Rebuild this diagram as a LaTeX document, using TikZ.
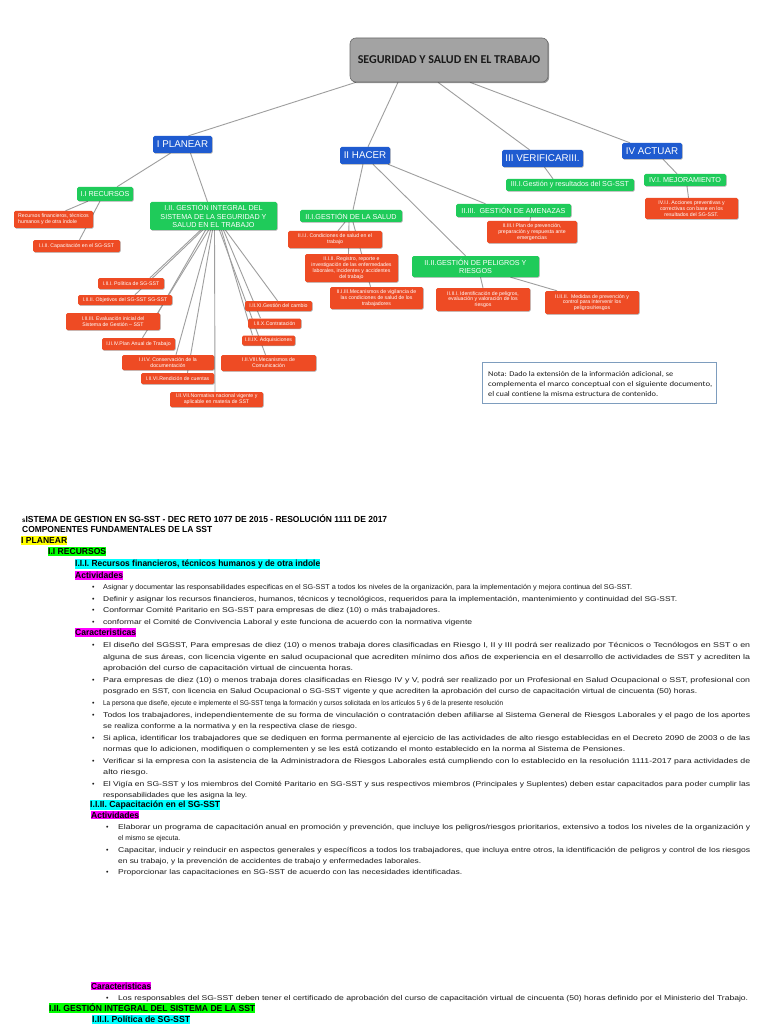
\documentclass[tikz,border=0pt]{standalone}
\usepackage{fontspec}
\usepackage{graphicx}
\setmainfont{Liberation Sans}
\newfontfamily\calib{Carlito}
\usetikzlibrary{calc,shadows,backgrounds}
\definecolor{bl}{HTML}{1F5BD0}
\definecolor{gr}{HTML}{1FCB5A}
\definecolor{rd}{HTML}{EE4B24}
\definecolor{ln}{HTML}{9E9E9E}
\definecolor{rootc}{HTML}{A3A3A3}
\definecolor{rootb}{HTML}{6A6A6A}
\definecolor{notec}{HTML}{7E9DBE}
\definecolor{txt}{HTML}{1A1A1A}
\definecolor{hy}{HTML}{FFFF00}
\definecolor{hg}{HTML}{00FF00}
\definecolor{hc}{HTML}{00FFFF}
\definecolor{hm}{HTML}{FF00FF}
\newcommand{\fl}[2]{\resizebox{#1pt}{\height}{#2}}
\newcommand{\bline}[5]{\node[body] (#1) at (#2,#3) {\fl{#4}{#5}};}
\newcommand{\bdot}[3]{\node[body] (#1) at (#2,#3) {\textbullet};}
\tikzset{
  sz/.style n args={2}{minimum width=#1pt, minimum height=#2pt},
  basebox/.style={rounded corners=1.5pt, text=white, align=center, inner sep=0pt,
    drop shadow={shadow xshift=0.7pt, shadow yshift=-0.7pt, opacity=0.35, fill=black}},
  rootbox/.style={rounded corners=6pt, fill=rootc, draw=rootb, line width=0.6pt, text=txt,
    font=\calib\bfseries\fontsize{12}{13}\selectfont, inner sep=0pt,
    drop shadow={shadow xshift=1.2pt, shadow yshift=-1.2pt, opacity=0.4, fill=black}},
  bluebox/.style={basebox, fill=bl, font=\fontsize{9.8}{11}\selectfont},
  greenbox/.style={basebox, fill=gr, font=\fontsize{7.2}{8.4}\selectfont},
  redbox/.style={basebox, fill=rd, font=\fontsize{5.2}{5.8}\selectfont},
  conn/.style={draw=ln, line width=0.9pt},
  body/.style={anchor=base west, inner sep=0pt, text=txt, font=\fontsize{7}{8}\selectfont},
  head/.style={anchor=base west, inner sep=0pt, text=black, font=\bfseries\fontsize{8.8}{9}\selectfont},
  hl/.style={anchor=base west, inner xsep=0pt, inner ysep=1pt, text=black, font=\bfseries\fontsize{8.8}{9}\selectfont},
  notebox/.style={draw=notec, line width=0.8pt, fill=white, sz={234}{41}},
  notetext/.style={anchor=base west, inner sep=0pt, text=txt, font=\calib\fontsize{7.3}{8}\selectfont}
}
\begin{document}
\begin{tikzpicture}[x=1pt,y=-1pt]
\useasboundingbox (0,0) rectangle (768,1024);

% ---------- concept map ----------
\node[rootbox, sz={198}{44}] (root) at (449,60) {SEGURIDAD Y SALUD EN EL TRABAJO};

\node[bluebox, sz={59}{17}] (planear) at (182.5,144.5) {I PLANEAR};
\node[bluebox, sz={50}{17}] (hacer) at (365,155.5) {II HACER};
\node[bluebox, sz={81}{17}] (verif) at (542.5,158.5) {III VERIFICARIII.};
\node[bluebox, sz={60}{16}] (actuar) at (652,151) {IV ACTUAR};

\node[greenbox, sz={56}{14}] (recursos) at (105,194) {I.I RECURSOS};
\node[greenbox, sz={127}{28}] (gestint) at (213.5,216) {I.II. GESTIÓN INTEGRAL DEL\\SISTEMA DE LA SEGURIDAD Y\\SALUD EN EL TRABAJO};
\node[greenbox, sz={102}{12}] (salud) at (351,216) {II.I.GESTIÓN DE LA SALUD};
\node[greenbox, sz={127}{21}] (peligros) at (475.5,266.5) {II.II.GESTIÓN DE PELIGROS Y\\RIESGOS};
\node[greenbox, sz={115}{13}] (amenazas) at (513.5,210.5) {II.III.\ \ GESTIÓN DE AMENAZAS};
\node[greenbox, sz={128}{12}] (gestres) at (570,185) {III.I.Gestión y resultados del SG-SST};
\node[greenbox, sz={82}{12}] (mejora) at (685,180) {IV.I. MEJORAMIENTO};

\node[redbox, sz={79}{17}, align=left] (recfin) at (53.5,219.5) {Recursos financieros, técnicos\\humanos y de otra índole};
\node[redbox, sz={87}{12}] (capac) at (76.5,246) {I.I.II. Capacitación en el SG-SST};
\node[redbox, sz={66}{11}] (politica) at (131,283.5) {I.II.I. Política de SG-SST};
\node[redbox, sz={94}{10}] (objetivos) at (125,300) {I.II.II. Objetivos del SG-SST SG-SST};
\node[redbox, sz={94}{17}] (evaluacion) at (113,321.5) {I.II.III. Evaluación inicial del\\Sistema de Gestión -- SST};
\node[redbox, sz={73}{12}] (plan) at (138.5,344) {I.II.IV.Plan Anual de Trabajo};
\node[redbox, sz={92}{15}] (conserv) at (168,362.5) {I.II.V. Conservación de la\\documentación};
\node[redbox, sz={73}{11}] (rendicion) at (177.5,378.5) {I.II.VI.Rendición de cuentas};
\node[redbox, sz={93}{15}] (normativa) at (216.5,399.5) {I.II.VII.Normativa nacional vigente y\\aplicable en materia de SST};
\node[redbox, sz={95}{16}] (mecan) at (268.5,363) {I.II.VIII.Mecanismos de\\Comunicación};
\node[redbox, sz={53}{10}] (adquis) at (268.5,340.5) {I.II.IX. Adquisiciones};
\node[redbox, sz={53}{10}] (contrat) at (274.5,323.5) {I.II.X.Contratación};
\node[redbox, sz={67}{10}] (cambio) at (278.5,306) {I.II.XI.Gestión del cambio};
\node[redbox, sz={94}{17}] (condic) at (335,239.5) {II.I.I. Condiciones de salud en el\\trabajo};
\node[redbox, sz={93}{28}] (registro) at (351.5,268) {II.I.II. Registro, reporte e\\investigación de las enfermedades\\laborales, incidentes y accidentes\\del trabajo};
\node[redbox, sz={93}{22}] (mecvig) at (376.5,298) {II.I.III.Mecanismos de vigilancia de\\las condiciones de salud de los\\trabajadores};
\node[redbox, sz={94}{23}] (identif) at (483,299.5) {II.II.I. Identificación de peligros,\\evaluación y valoración de los\\riesgos};
\node[redbox, sz={94}{23}] (medidas) at (592,302.5) {II.II.II.\ \ Medidas de prevención y\\control para intervenir los\\peligros/riesgos};
\node[redbox, sz={90}{22}] (planprev) at (532,232) {II.III.I Plan de prevención,\\preparación y respuesta ante\\emergencias};
\node[redbox, sz={93}{21}] (acciones) at (691.5,208.5) {IV.I.I. Acciones preventivas y\\correctivas con base en los\\resultados del SG-SST.};

\begin{scope}[on background layer]
\fill[white] (0,0) rectangle (768,1024);
\draw[conn] ($(root.south)+(-93,0)$) -- ($(planear.north)+(6,0)$);
\draw[conn] ($(root.south)+(-51,0)$) -- ($(hacer.north)+(3,0)$);
\draw[conn] ($(root.south)+(-11,0)$) -- ($(verif.north)+(-13,0)$);
\draw[conn] ($(root.south)+(21,0)$) -- ($(actuar.north)+(-22,0)$);
\draw[conn] ($(planear.south)+(-12,0)$) -- ($(recursos.north)+(12,0)$);
\draw[conn] ($(planear.south)+(8,0)$) -- ($(gestint.north)+(-6,0)$);
\draw[conn] ($(recursos.south)+(-17,0)$) -- ($(recfin.north)+(12,0)$);
\draw[conn] ($(recursos.south)+(-5,0)$) -- ($(capac.north)+(3,0)$);
\draw[conn] ($(gestint.south)+(-13,0)$) -- ($(politica.north)+(19,0)$);
\draw[conn] ($(gestint.south)+(-11,0)$) -- ($(objetivos.north)+(10,0)$);
\draw[conn] ($(gestint.south)+(-8,0)$) -- ($(evaluacion.north)+(45,0)$);
\draw[conn] ($(gestint.south)+(-5,0)$) -- ($(plan.north)+(4,0)$);
\draw[conn] ($(gestint.south)+(-3,0)$) -- ($(conserv.north)+(8,0)$);
\draw[conn] ($(gestint.south)+(-1,0)$) -- ($(rendicion.north)+(10,0)$);
\draw[conn] ($(gestint.south)+(1,0)$) -- ($(normativa.north)+(-1.5,0)$);
\draw[conn] ($(gestint.south)+(6,0)$) -- ($(mecan.north)+(-3,0)$);
\draw[conn] ($(gestint.south)+(8,0)$) -- ($(adquis.north)+(-16,0)$);
\draw[conn] ($(gestint.south)+(10,0)$) -- ($(contrat.north)+(-14,0)$);
\draw[conn] ($(gestint.south)+(12,0)$) -- ($(cambio.north)+(-1,0)$);
\draw[conn] ($(hacer.south)+(-2,0)$) -- ($(salud.north)+(2,0)$);
\draw[conn] ($(hacer.south)+(8,0)$) -- ($(peligros.north)+(-10,0)$);
\draw[conn] ($(hacer.south)+(23,0)$) -- ($(amenazas.north)+(-28,0)$);
\draw[conn] ($(amenazas.south)+(17,0)$) -- ($(planprev.north)+(-2,0)$);
\draw[conn] ($(salud.south)+(-6,0)$) -- ($(condic.north)+(3,0)$);
\draw[conn] ($(salud.south)+(-2,0)$) -- ($(registro.north)+(-3,0)$);
\draw[conn] ($(salud.south)+(2,0)$) -- ($(mecvig.north)+(-6,0)$);
\draw[conn] ($(peligros.south)+(5,0)$) -- ($(identif.north)+(0,0)$);
\draw[conn] ($(peligros.south)+(35,0)$) -- ($(medidas.north)+(-35,0)$);
\draw[conn] ($(verif.south)+(2,0)$) -- ($(gestres.north)+(-17,0)$);
\draw[conn] ($(actuar.south)+(11,0)$) -- ($(mejora.north)+(-8,0)$);
\draw[conn] ($(mejora.south)+(2,0)$) -- ($(acciones.north)+(-3,0)$);
\end{scope}

% ---------- note ----------
\node[notebox] (nota) at (599,382.5) {};
\node[notetext] (n1) at (488,376) {\fl{185}{Nota: Dado la extensión de la información adicional, se}};
\node[notetext] (n2) at (488,386) {\fl{224}{complementa el marco conceptual con el siguiente documento,}};
\node[notetext] (n3) at (488,396) {\fl{170}{el cual contiene la misma estructura de contenido.}};

% ---------- text section ----------
\node[head] (h1) at (22,522) {\fl{365}{{\fontsize{6.4}{7}\selectfont s}ISTEMA DE GESTION EN SG-SST - DEC RETO 1077 DE 2015 - RESOLUCIÓN 1111 DE 2017}};
\node[head] (h2) at (22,532) {\fl{190}{COMPONENTES FUNDAMENTALES DE LA SST}};
\node[hl, fill=hy] (hp) at (21,543.5) {\fl{46}{I PLANEAR}};
\node[hl, fill=hg] (hr) at (48,554.5) {\fl{58}{I.I RECURSOS}};
\node[hl, fill=hc] (hc1) at (75,566.5) {\fl{245}{I.I.I. Recursos financieros, técnicos humanos y de otra indole}};
\node[hl, fill=hm] (ha1) at (75,578.5) {\fl{48}{Actividades}};

\bdot{d1}{92}{589.5}
\bline{l1}{103}{589.5}{529}{Asignar y documentar las responsabilidades especificas en el SG-SST a todos los niveles de la organización, para la implementación y mejora continua del SG-SST.}
\bdot{d2}{92}{601.5}
\bline{l2}{103}{601.5}{574}{Definir y asignar los recursos financieros, humanos, técnicos y tecnológicos, requeridos para la implementación, mantenimiento y continuidad del SG-SST.}
\bdot{d3}{92}{612.5}
\bline{l3}{103}{612.5}{337}{Conformar Comité Paritario en SG-SST para empresas de diez (10) o más trabajadores.}
\bdot{d4}{92}{624.5}
\bline{l4}{103}{624.5}{369}{conformar el Comité de Convivencia Laboral y este funciona de acuerdo con la normativa vigente}

\node[hl, fill=hm] (hk1) at (75,635.5) {\fl{61}{Caracteristicas}};

\bdot{d5}{92}{647.5}
\bline{l5}{103}{647.5}{647}{El diseño del SGSST, Para empresas de diez (10) o menos trabaja dores clasificadas en Riesgo I, II y III podrá ser realizado por Técnicos o Tecnólogos en SST o en}
\bline{l6}{103}{659.5}{647}{alguna de sus áreas, con licencia vigente en salud ocupacional que acrediten mínimo dos años de experiencia en el desarrollo de actividades de SST y acrediten la}
\bline{l7}{103}{670.5}{250}{aprobación del curso de capacitación virtual de cincuenta horas.}
\bdot{d8}{92}{682.5}
\bline{l8}{103}{682.5}{647}{Para empresas de diez (10) o menos trabaja dores clasificadas en Riesgo IV y V, podrá ser realizado por un Profesional en Salud Ocupacional o SST, profesional con}
\bline{l9}{103}{693.5}{594}{posgrado en SST, con licencia en Salud Ocupacional o SG-SST vigente y que acrediten la aprobación del curso de capacitación virtual de cincuenta (50) horas.}
\bdot{d10}{92}{705.5}
\bline{l10}{103}{705.5}{400}{La persona que diseñe, ejecute e implemente el SG-SST tenga la formación y cursos solicitada en los artículos 5 y 6 de la presente resolución}
\bdot{d11}{92}{717.5}
\bline{l11}{103}{717.5}{647}{Todos los trabajadores, independientemente de su forma de vinculación o contratación deben afiliarse al Sistema General de Riesgos Laborales y el pago de los aportes}
\bline{l12}{103}{728.5}{254}{se realiza conforme a la normativa y en la respectiva clase de riesgo.}
\bdot{d13}{92}{740.5}
\bline{l13}{103}{740.5}{647}{Si aplica, identificar los trabajadores que se dediquen en forma permanente al ejercicio de las actividades de alto riesgo establecidas en el Decreto 2090 de 2003 o de las}
\bline{l14}{103}{751.5}{522}{normas que lo adicionen, modifiquen o complementen y se les está cotizando el monto establecido en la norma al Sistema de Pensiones.}
\bdot{d15}{92}{763.5}
\bline{l15}{103}{763.5}{647}{Verificar si la empresa con la asistencia de la Administradora de Riesgos Laborales está cumpliendo con lo establecido en la resolución 1111-2017 para actividades de}
\bline{l16}{103}{774.5}{45}{alto riesgo.}
\bdot{d17}{92}{786.5}
\bline{l17}{103}{786.5}{647}{El Vigía en SG-SST y los miembros del Comité Paritario en SG-SST y sus respectivos miembros (Principales y Suplentes) deben estar capacitados para poder cumplir las}
\bline{l18}{103}{797}{144}{responsabilidades que les asigna la ley.}

\node[hl, fill=hc] (hc2) at (90,807) {\fl{130}{I.I.II. Capacitación en el SG-SST}};
\node[hl, fill=hm] (ha2) at (91,818) {\fl{48}{Actividades}};

\bdot{d19}{106}{829.5}
\bline{l19}{118}{829.5}{632}{Elaborar un programa de capacitación anual en promoción y prevención, que incluye los peligros/riesgos prioritarios, extensivo a todos los niveles de la organización y}
\bline{l20}{118}{840.5}{62}{el mismo se ejecuta.}
\bdot{d21}{106}{852}
\bline{l21}{118}{852}{632}{Capacitar, inducir y reinducir en aspectos generales y específicos a todos los trabajadores, que incluya entre otros, la identificación de peligros y control de los riesgos}
\bline{l22}{118}{863}{303}{en su trabajo, y la prevención de accidentes de trabajo y enfermedades laborales.}
\bdot{d23}{106}{874}
\bline{l23}{118}{874}{344}{Proporcionar las capacitaciones en SG-SST de acuerdo con las necesidades identificadas.}

\node[hl, fill=hm] (hk2) at (91,989) {\fl{60}{Caracteristicas}};
\bdot{d24}{106}{1000}
\bline{l24}{118}{1000}{630}{Los responsables del SG-SST deben tener el certificado de aprobación del curso de capacitación virtual de cincuenta (50) horas definido por el Ministerio del Trabajo.}
\node[hl, fill=hg] (hg2) at (49,1011.5) {\fl{206}{I.II. GESTIÓN INTEGRAL DEL SISTEMA DE LA SST}};
\node[hl, fill=hc] (hc3) at (92,1022.5) {\fl{98}{I.II.I. Política de SG-SST}};
\end{tikzpicture}
\end{document}
